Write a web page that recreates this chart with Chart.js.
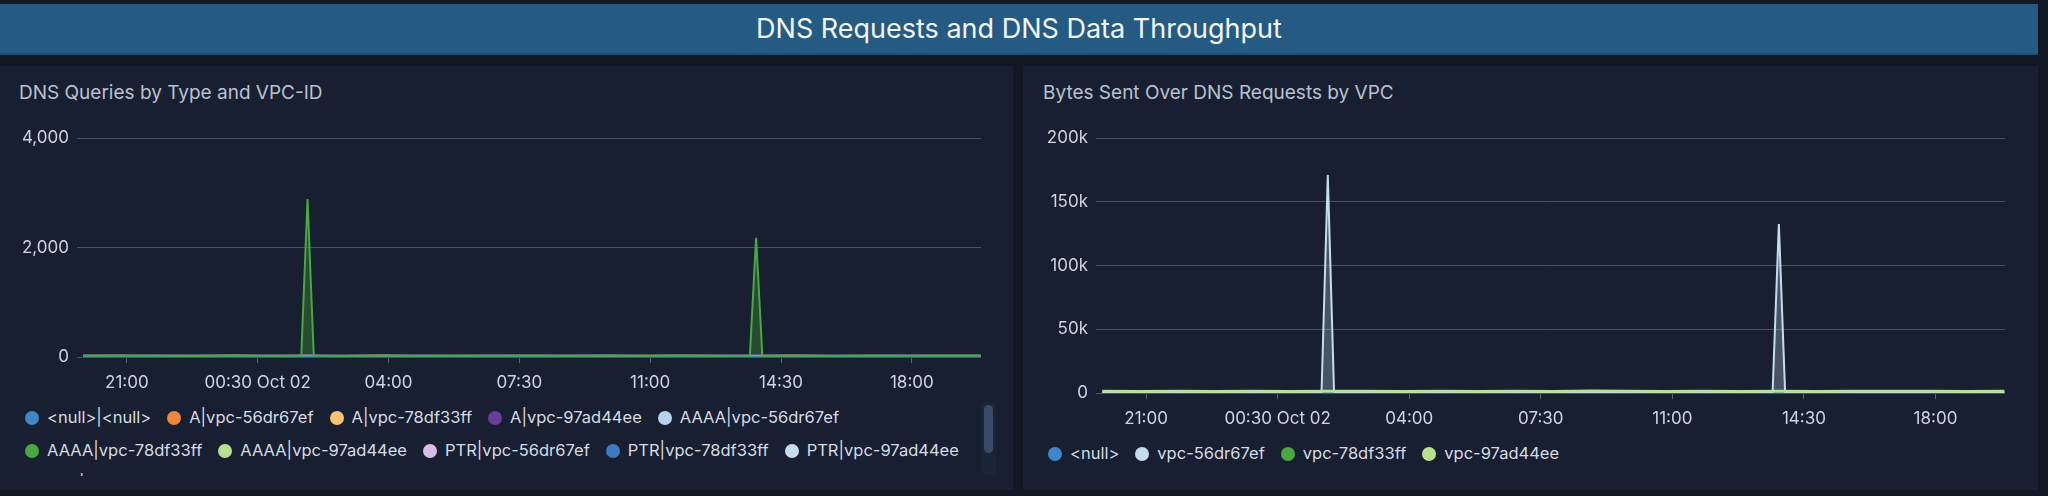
<!DOCTYPE html>
<html>
<head>
<meta charset="utf-8">
<script src="https://cdn.jsdelivr.net/npm/chart.js@4.4.0/dist/chart.umd.min.js"></script>
<style>
  html, body { margin:0; padding:0; background:#111723; width:2048px; height:496px; overflow:hidden; font-family:Inter, "Noto Sans", sans-serif; }
  #band { position:absolute; left:0; top:4px; width:2038px; height:51px; background:#255b82; border-bottom:2px solid #1f4e72; box-sizing:border-box; color:#f2f6fa; font-size:27px; line-height:49px; text-align:center; }
  .panel { position:absolute; top:66px; height:424px; background:#181f30; }
  .sub { position:absolute; top:81px; font-size:19px; line-height:23px; color:#b9c2cf; white-space:nowrap; }
  canvas { position:absolute; }
  .legend { position:absolute; display:flex; flex-wrap:wrap; overflow:hidden; color:#d7dce4; font-size:16.5px; line-height:33px; }
  .item { display:flex; align-items:center; margin-right:16px; white-space:nowrap; height:33px; }
  .dot { width:14px; height:14px; border-radius:50%; margin-right:8px; flex:none; }
  #track { position:absolute; left:982px; top:402px; width:14px; height:73px; background:#1c2437; border-radius:4px; }
  #thumb { position:absolute; left:984px; top:405px; width:9px; height:48px; background:#3a4a64; border-radius:5px; }
</style>
</head>
<body>
<div id="band">DNS Requests and DNS Data Throughput</div>
<div class="panel" style="left:0;width:1013px;"></div>
<div class="panel" style="left:1023px;width:1015px;"></div>
<div class="sub" style="left:19px;">DNS Queries by Type and VPC-ID</div>
<div class="sub" style="left:1043px;">Bytes Sent Over DNS Requests by VPC</div>
<canvas id="c1" width="1013" height="280" style="left:0;top:120px;width:1013px;height:280px;"></canvas>
<canvas id="c2" width="1015" height="315" style="left:1023px;top:120px;width:1015px;height:315px;"></canvas>
<div id="leg1" class="legend" style="left:25px;top:401px;width:956px;height:75px;"></div>
<div id="track"></div><div id="thumb"></div>
<div id="leg2" class="legend" style="left:1048px;top:437px;width:950px;height:33px;"></div>
<script>
// ---- time axis ----
const times = ["10-01 19:50","10-01 20:50","10-01 21:50","10-01 22:50","10-01 23:50",
  "10-02 00:50","10-02 01:50","10-02 02:50","10-02 03:50","10-02 04:50","10-02 05:50",
  "10-02 06:50","10-02 07:50","10-02 08:50","10-02 09:50","10-02 10:50","10-02 11:50",
  "10-02 12:50","10-02 13:50","10-02 14:50","10-02 15:50","10-02 16:50","10-02 17:50",
  "10-02 18:50","10-02 19:50"];
const timesSpike = ["10-01 19:50","10-01 20:50","10-01 21:50","10-01 22:50","10-01 23:50",
  "10-02 00:50","10-02 01:40","10-02 01:50","10-02 02:00","10-02 02:50","10-02 03:50",
  "10-02 04:50","10-02 05:50","10-02 06:50","10-02 07:50","10-02 08:50","10-02 09:50",
  "10-02 10:50","10-02 11:50","10-02 12:50","10-02 13:40","10-02 13:50","10-02 14:00",
  "10-02 14:50","10-02 15:50","10-02 16:50","10-02 17:50","10-02 18:50","10-02 19:50"];
const tickTimes = ["10-01 21:00","10-02 00:30","10-02 04:00","10-02 07:30","10-02 11:00","10-02 14:30","10-02 18:00"];
const tickLabels = ["21:00","00:30 Oct 02","04:00","07:30","11:00","14:30","18:00"];
const axisStart = "10-01 19:40";
const axisEnd = "10-02 19:51";

// ---- left chart: DNS queries by type and VPC ----
const leftLabels = ["<null>|<null>","A|vpc-56dr67ef","A|vpc-78df33ff","A|vpc-97ad44ee","AAAA|vpc-56dr67ef",
  "AAAA|vpc-78df33ff","AAAA|vpc-97ad44ee","PTR|vpc-56dr67ef","PTR|vpc-78df33ff","PTR|vpc-97ad44ee","TXT|vpc-56dr67ef"];
const leftColors = ["#3f87c9","#f0883a","#f9c374","#6a3d9a","#b5d4ec",
  "#4aa83f","#b9e08f","#d5bde3","#3b7bc0","#c7dcef","#3d8c46"];
const qNull   = [4,3,5,2,4,3,5,4,2,3,4,5,3,4,2,5,3,4,3,2,4,5,3,4,3];
const qA56    = [22,18,25,20,27,19,24,21,26,18,23,20,25,22,19,27,21,24,20,26,18,23,25,21,22];
const qA78    = [15,19,13,17,21,14,18,16,12,20,15,17,19,13,16,18,14,21,17,15,19,13,16,18,15];
const qA97    = [32,28,36,30,34,38,29,33,31,37,28,35,30,33,36,29,34,31,38,30,33,28,35,32,31];
const qAAAA56 = [9,11,8,12,10,7,13,9,11,8,10,12,9,7,11,10,13,8,9,12,10,8,11,9,10];
const qAAAA78 = [26,24,28,25,27,23,25,2890,26,24,27,25,28,23,26,24,27,25,28,24,26,2180,25,27,24,26,25,28,26];
const qAAAA97 = [18,15,20,17,14,19,16,21,18,15,17,20,14,19,16,18,21,15,17,19,16,14,20,18,17];
const qPTR56  = [27,31,24,29,33,26,30,25,32,28,24,31,27,29,33,25,30,26,28,32,24,29,31,27,28];
const qPTR78  = [5,4,6,3,5,4,6,5,3,4,6,5,4,3,5,6,4,5,3,4,6,5,4,5,4];
const qPTR97  = [3,4,2,5,3,4,3,2,4,5,3,2,4,3,5,4,2,3,4,3,5,2,4,3,4];
const qTXT56  = [2,1,3,2,1,2,3,1,2,2,1,3,2,1,2,3,1,2,2,1,3,2,1,2,2];
const leftSeries = [qNull,qA56,qA78,qA97,qAAAA56,qAAAA78,qAAAA97,qPTR56,qPTR78,qPTR97,qTXT56];
const leftTimes  = [times,times,times,times,times,timesSpike,times,times,times,times,times];
const leftTicksY = [0,2000,4000];

// ---- right chart: bytes sent over DNS by VPC ----
const rightLabels = ["<null>","vpc-56dr67ef","vpc-78df33ff","vpc-97ad44ee"];
const rightColors = ["#3f87c9","#c7dcef","#4aa83f","#b9e08f"];
const bNull = [20,15,25,18,22,16,24,19,21,17,23,20,18,22,15,24,19,21,16,23,20,18,22,17,20];
const b56   = [310,290,330,300,320,285,305,171000,315,295,325,300,310,290,320,305,295,330,300,315,290,132600,310,300,320,295,305,315,300];
const b78   = [520,480,560,500,540,470,530,510,490,550,480,520,500,560,470,530,510,490,540,500,520,480,550,510,500];
const b97   = [1500,1350,1650,1450,1580,1400,1620,1480,1380,1600,1450,1550,1420,1680,1500,1380,1620,1470,1560,1430,1600,1500,1650,1450,1520];
const rightSeries = [bNull,b56,b78,b97];
const rightTimes  = [times,timesSpike,times,times];
const rightTicksY = [0,50000,100000,150000,200000];

// ---- helpers ----
function toHours(s) {
  const day = parseInt(s.slice(3,5),10) - 1;
  const h = parseInt(s.slice(6,8),10), m = parseInt(s.slice(9,11),10);
  return day*24 + h + m/60;
}
function hexA(hex, a) {
  const n = parseInt(hex.slice(1),16);
  return `rgba(${(n>>16)&255},${(n>>8)&255},${n&255},${a})`;
}
const font = {family:'Inter', size:17};
const tickColor = '#cfd5de';
const gridColor = '#4a5366';

function makeDatasets(labels, colors, series, tms, spikeIdx, topIdx, fillAlpha) {
  return series.map((vals, i) => ({
    label: labels[i],
    data: vals.map((v, k) => ({x: toHours(tms[i][k]), y: v})),
    borderColor: colors[i],
    backgroundColor: hexA(colors[i], i === spikeIdx ? fillAlpha : 0.25),
    borderWidth: i === spikeIdx ? 2 : (i === topIdx ? 2.5 : 1.5),
    fill: 'origin',
    pointRadius: 0,
    tension: 0,
    order: i === topIdx ? -2 : (i === spikeIdx ? -1 : 0)
  }));
}

function makeChart(id, datasets, yTicks, yFmt, yWidth, xHeight, pad) {
  return new Chart(document.getElementById(id), {
    type: 'line',
    data: { datasets },
    options: {
      responsive: false,
      animation: false,
      devicePixelRatio: 1,
      layout: { padding: pad },
      plugins: { legend: {display:false}, tooltip: {enabled:false} },
      scales: {
        x: {
          type: 'linear',
          min: toHours(axisStart), max: toHours(axisEnd),
          grid: { display:true, drawOnChartArea:false, drawTicks:true, tickLength:6, color:'#5b6474' },
          border: { display:false },
          ticks: { color:tickColor, font, padding:10, maxRotation:0, autoSkip:false,
                   callback: (v, i) => tickLabels[i] },
          afterBuildTicks: s => { s.ticks = tickTimes.map(t => ({value: toHours(t)})); },
          afterFit: s => { s.height = xHeight; }
        },
        y: {
          min: yTicks[0], max: yTicks[yTicks.length-1],
          grid: { color:gridColor, drawTicks:false },
          border: { display:false },
          ticks: { color:tickColor, font, padding:8, callback: yFmt },
          afterBuildTicks: s => { s.ticks = yTicks.map(v => ({value:v})); },
          afterFit: s => { s.width = yWidth; }
        }
      }
    }
  });
}

makeChart('c1', makeDatasets(leftLabels, leftColors, leftSeries, leftTimes, 5, -1, 0.32), leftTicksY,
  v => v.toLocaleString('en-US'), 77, 43, {left:0, right:32, top:14, bottom:0});
makeChart('c2', makeDatasets(rightLabels, rightColors, rightSeries, rightTimes, 1, 3, 0.28), rightTicksY,
  v => v === 0 ? '0' : (v/1000) + 'k', 73, 42, {left:0, right:33, top:15, bottom:0});

function buildLegend(id, labels, colors) {
  const el = document.getElementById(id);
  labels.forEach((l, i) => {
    const it = document.createElement('div'); it.className = 'item';
    const d = document.createElement('span'); d.className = 'dot'; d.style.background = colors[i];
    const t = document.createElement('span'); t.textContent = l;
    it.appendChild(d); it.appendChild(t); el.appendChild(it);
  });
}
buildLegend('leg1', leftLabels, leftColors);
buildLegend('leg2', rightLabels, rightColors);
</script>
</body>
</html>
